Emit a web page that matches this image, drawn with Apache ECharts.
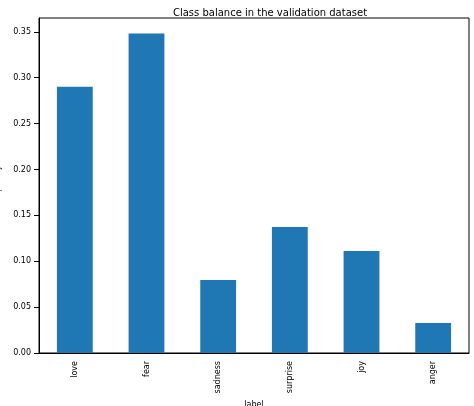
<!DOCTYPE html>
<html><head><meta charset="utf-8">
<script src="https://cdn.jsdelivr.net/npm/echarts@6/dist/echarts.min.js"></script>
<style>html,body{margin:0;padding:0;background:#fff}#c{width:474px;height:406px}</style>
</head><body><div id="c"></div>
<script>
var categories = ["love","fear","sadness","surprise","joy","anger"];
var frequency = [0.290, 0.348, 0.0796, 0.1374, 0.111, 0.0327];
var chart = echarts.init(document.getElementById('c'));
chart.setOption({
  animation:false,
  title:{text:"Class balance in the validation dataset",left:265,top:3,textAlign:'center',
    textStyle:{fontFamily:'DejaVu Sans',fontSize:10,fontWeight:'normal',color:'#000'}},
  grid:{left:39,right:5,top:18,bottom:53,containLabel:false,outerBoundsMode:'none'},
  xAxis:{type:'category',data:categories,name:'label',nameLocation:'middle',nameGap:40,
    nameTextStyle:{fontFamily:'DejaVu Sans',fontSize:8,color:'#000'},
    axisLine:{lineStyle:{color:'#000'}},axisTick:{alignWithLabel:true,lineStyle:{color:'#000'}},
    axisLabel:{rotate:90,fontFamily:'DejaVu Sans',fontSize:8,color:'#000'}},
  yAxis:{type:'value',min:0,max:0.365,interval:0.05,name:'frequency',nameLocation:'middle',nameGap:30,
    nameTextStyle:{fontFamily:'DejaVu Sans',fontSize:8,color:'#000'},
    splitLine:{show:false},axisLine:{show:true,lineStyle:{color:'#000'}},axisTick:{show:true,lineStyle:{color:'#000'}},
    axisLabel:{fontFamily:'DejaVu Sans',fontSize:8,color:'#000',showMaxLabel:false,
      formatter:function(v){return v.toFixed(2);}}},
  series:[{type:'bar',data:frequency,barWidth:'50%',itemStyle:{color:'#1f77b4'}}],
  graphic:[{type:'rect',shape:{x:39,y:18,width:430,height:335},style:{fill:'none',stroke:'#000',lineWidth:1},silent:true}]
});
</script></body></html>
